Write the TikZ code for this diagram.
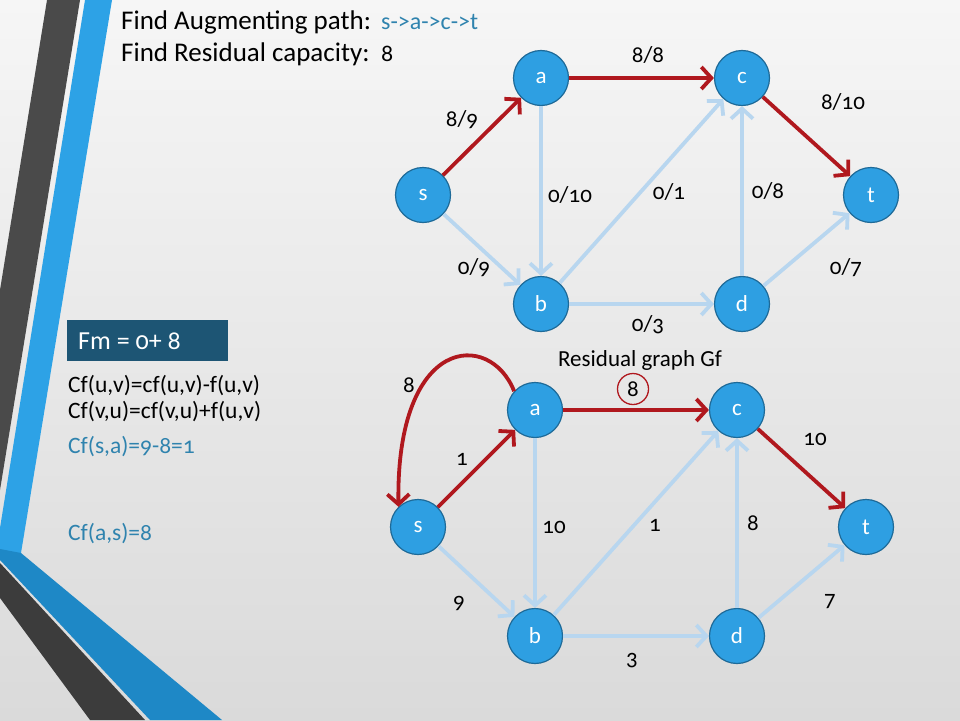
\documentclass[tikz,border=0pt]{standalone}
\usepackage{fontspec}
\setmainfont{Carlito}[Numbers=OldStyle]
\usetikzlibrary{arrows.meta}
\definecolor{bgtop}{HTML}{F6F6F6}
\definecolor{bgbot}{HTML}{DADADA}
\definecolor{stripedark}{HTML}{4A4A4A}
\definecolor{stripedark2}{HTML}{3C3C3C}
\definecolor{stripeblue}{HTML}{2DA2E6}
\definecolor{stripeblue2}{HTML}{1E88C6}
\definecolor{nodeblue}{HTML}{2E9FE2}
\definecolor{nodeborder}{HTML}{1E6A98}
\definecolor{edgered}{HTML}{B0181E}
\definecolor{edgeblue}{HTML}{B8D6EF}
\definecolor{pathblue}{HTML}{2F83AE}
\definecolor{fmbox}{HTML}{1D5574}
\tikzset{
  title/.style={font=\fontsize{27}{30}\selectfont, anchor=base west, inner sep=0pt},
  formula/.style={font=\fontsize{23.5}{26}\selectfont, anchor=base west, inner sep=0pt},
  nd/.style={circle, minimum size=55pt, inner sep=0pt, fill=nodeblue, draw=nodeborder,
    line width=1.2pt, text=white, font=\fontsize{23}{23}\selectfont},
  lbl/.style={font=\fontsize{23}{23}\selectfont, inner sep=0pt},
  tip/.style={-{Straight Barb[length=10pt,width=22pt]}},
  redge/.style={draw=edgered, line width=3.8pt, tip},
  bedge/.style={draw=edgeblue, line width=3.8pt, tip},
}
\begin{document}
\begin{tikzpicture}[x=1pt,y=-1pt]
\useasboundingbox (0,0) rectangle (960,720);
% background
\shade[top color=bgtop, bottom color=bgbot] (0,0) rectangle (960,720);
% decorative stripes
\fill[stripedark] (47,0) -- (80,0) -- (0,490) -- (0,290) -- cycle;
\fill[stripeblue] (85,0) -- (112,0) -- (21,553) -- (0,553) -- (0,528) -- cycle;
\fill[stripeblue2] (0,549) -- (21,553) -- (222,720) -- (150,720) -- (0,560) -- cycle;
\fill[stripedark2] (0,563) -- (145,720) -- (90,720) -- (0,598) -- cycle;

% header text
\node[title] (t1) at (121,29) {Find Augmenting path:};
\node[title, font=\fontsize{24}{27}\selectfont, text=pathblue] (t1p) at (381,29) {s->a->c->t};
\node[title] (t2) at (121,61) {Find Residual capacity:};
\node[title, font=\fontsize{24}{27}\selectfont] (t2v) at (381,61) {8};

% Fm box and formulas
\node[fill=fmbox, minimum width=161pt, minimum height=41pt, anchor=north west, inner sep=0pt] (fm) at (67,320) {};
\node[font=\fontsize{26}{28}\selectfont, text=white, anchor=base west, inner sep=0pt] (fmt) at (78,349) {Fm = 0+ 8};
\node[formula] (f1) at (68,392) {Cf(u,v)=cf(u,v)-f(u,v)};
\node[formula] (f2) at (68,418) {Cf(v,u)=cf(v,u)+f(u,v)};
\node[formula, text=pathblue] (f3) at (68,453) {Cf(s,a)=9-8=1};
\node[formula, text=pathblue] (f4) at (68,540) {Cf(a,s)=8};

% top graph
\node[nd] (s) at (423,195) {s};
\node[nd] (a) at (541,78) {a};
\node[nd] (c) at (742,78) {c};
\node[nd] (t) at (871,195) {t};
\node[nd] (b) at (541,304) {b};
\node[nd] (d) at (742,304) {d};
\draw[bedge] (s) -- (b);
\draw[bedge] (a) -- (b);
\draw[bedge] (b) -- (c);
\draw[bedge] (d) -- (c);
\draw[bedge] (b) -- (d);
\draw[bedge] (d) -- (t);
\draw[redge] (s) -- (a);
\draw[redge] (a) -- (c);
\draw[redge] (c) -- (t);
\node[lbl] (l88) at (648,55) {8/8};
\node[lbl] (l89) at (462,120) {8/9};
\node[lbl] (l810) at (843,102) {8/10};
\node[lbl] (l010) at (570,195) {0/10};
\node[lbl] (l01) at (669,192) {0/1};
\node[lbl] (l08) at (768,191) {0/8};
\node[lbl] (l09) at (474,268) {0/9};
\node[lbl] (l07) at (846,268) {0/7};
\node[lbl] (l03) at (648,325) {0/3};

% residual graph
\node[lbl] (rg) at (640,360) {Residual graph Gf};
\node[nd] (s2) at (418,527) {s};
\node[nd] (a2) at (535,410) {a};
\node[nd] (c2) at (737,410) {c};
\node[nd] (t2n) at (866,527) {t};
\node[nd] (b2) at (535,636) {b};
\node[nd] (d2) at (737,636) {d};
\draw[bedge] (s2) -- (b2);
\draw[bedge] (a2) -- (b2);
\draw[bedge] (b2) -- (c2);
\draw[bedge] (d2) -- (c2);
\draw[bedge] (b2) -- (d2);
\draw[bedge] (d2) -- (t2n);
\draw[redge] (s2) -- (a2);
\draw[redge] (a2) -- (c2);
\draw[redge] (c2) -- (t2n);
\draw[redge] (a2.138) .. controls (490,330) and (396,335) .. (s2.134);
\node[lbl] (r8a) at (409,385) {8};
\node[lbl, draw=edgered, circle, line width=1.3pt, minimum size=31pt] (r8b) at (633,389) {8};
\node[lbl] (r1a) at (462,459) {1};
\node[lbl] (r10a) at (815,439) {10};
\node[lbl] (r10b) at (554,527) {10};
\node[lbl] (r1b) at (655,525) {1};
\node[lbl] (r8c) at (753,523) {8};
\node[lbl] (r9) at (459,603) {9};
\node[lbl] (r7) at (830,602) {7};
\node[lbl] (r3) at (632,661) {3};
\end{tikzpicture}
\end{document}
